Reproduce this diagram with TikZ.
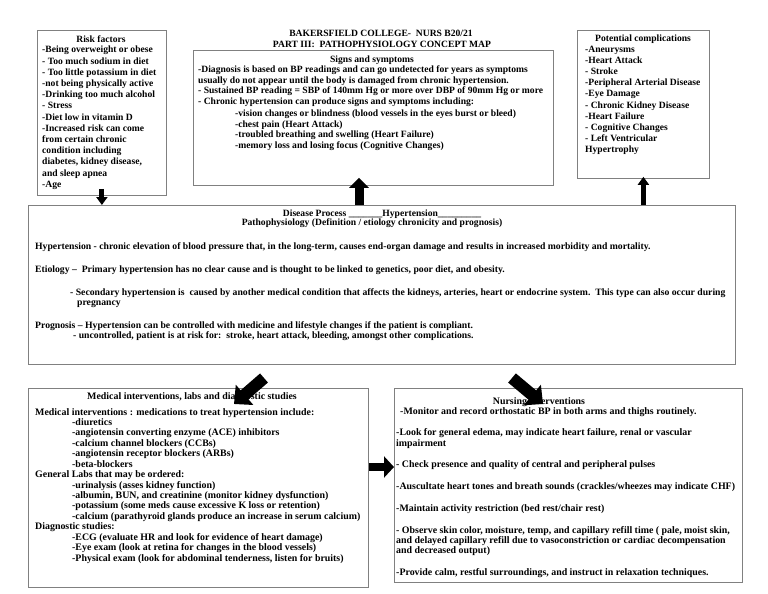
\documentclass[tikz,border=0pt]{standalone}
\usepackage{fontspec}
\setmainfont{Liberation Serif}
\usetikzlibrary{arrows.meta}
\newcommand{\fs}[2]{\fontsize{#1}{#2}\selectfont\bfseries}
\newcommand{\indl}{\hspace*{37pt}}
\tikzset{
  box/.style={draw=black!50, line width=0.8pt, inner sep=0pt, anchor=north west},
  hd/.style={font=\fs{9.6}{10.5}, inner sep=0pt},
  txt/.style={font=\fs{9.6}{10.5}, inner sep=0pt, anchor=north west, align=left},
  thinar/.style={line width=5pt, -{Triangle[length=8pt, width=11pt]}},
  midar/.style={line width=8pt, -{Triangle[length=10pt, width=21pt]}},
  fatar/.style={line width=12pt, -{Triangle[length=14pt, width=26pt]}}
}
\begin{document}
\begin{tikzpicture}[x=1pt, y=-1pt]
\useasboundingbox[fill=white] (0,0) rectangle (768,594);

\node[box, minimum width=129pt, minimum height=165pt] (risk) at (37,30) {};
\node[box, minimum width=360pt, minimum height=135pt] (signs) at (193,50) {};
\node[box, minimum width=132pt, minimum height=148pt] (comp) at (577,30) {};
\node[box, minimum width=707pt, minimum height=159pt] (dis) at (28,205) {};
\node[box, minimum width=340pt, minimum height=199pt] (med) at (28,388) {};
\node[box, minimum width=348pt, minimum height=194pt] (nur) at (394,388) {};

\node[hd] (title1) at (381,33) {BAKERSFIELD COLLEGE-\ \ NURS B20/21};
\node[hd] (title2) at (382,44) {PART III:\ \ PATHOPHYSIOLOGY CONCEPT MAP};

\node[hd] (riskhd) at (101,39) {Risk factors};
\node[txt, font=\fs{9.6}{11.2}] (risktxt) at (42,46) {-Being overweight or obese\\
- Too much sodium in diet\\
- Too little potassium in diet\\
-not being physically active\\
-Drinking too much alcohol\\
- Stress\\
-Diet low in vitamin D\\
-Increased risk can come\\
from certain chronic\\
condition including\\
diabetes, kidney disease,\\
and sleep apnea\\
-Age};

\node[hd] (signhd) at (372,60) {Signs and symptoms};
\node[txt] (signtxt) at (198,66) {-Diagnosis is based on BP readings and can go undetected for years as symptoms\\
usually do not appear until the body is damaged from chronic hypertension.\\
- Sustained BP reading = SBP of 140mm Hg or more over DBP of 90mm Hg or more\\
- Chronic hypertension can produce signs and symptoms including:\\[2pt]
\indl-vision changes or blindness (blood vessels in the eyes burst or bleed)\\
\indl-chest pain (Heart Attack)\\
\indl-troubled breathing and swelling (Heart Failure)\\
\indl-memory loss and losing focus (Cognitive Changes)};

\node[hd] (comphd) at (643,39) {Potential complications};
\node[txt, font=\fs{9.6}{11.1}] (comptxt) at (585,46) {-Aneurysms\\
-Heart Attack\\
- Stroke\\
-Peripheral Arterial Disease\\
-Eye Damage\\
- Chronic Kidney Disease\\
-Heart Failure\\
- Cognitive Changes\\
- Left Ventricular\\
Hypertrophy};

\node[hd] (dishd1) at (382,214) {Disease Process \_\_\_\_\_\_\_Hypertension\_\_\_\_\_\_\_\_\_};
\node[hd] (dishd2) at (372,223) {Pathophysiology (Definition / etiology chronicity and prognosis)};
\node[txt, font=\fs{9.7}{10}] (distxt) at (35,242) {Hypertension - chronic elevation of blood pressure that, in the long-term, causes end-organ damage and results in increased morbidity and mortality.\\[13pt]
Etiology --\ \ Primary hypertension has no clear cause and is thought to be linked to genetics, poor diet, and obesity.\\[13pt]
\hspace*{35pt}- Secondary hypertension is\ \ caused by another medical condition that affects the kidneys, arteries, heart or endocrine system.\ \ This type can also occur during\\
\hspace*{42pt}pregnancy\\[13pt]
Prognosis -- Hypertension can be controlled with medicine and lifestyle changes if the patient is compliant.\\
\hspace*{38pt}- uncontrolled, patient is at risk for:\ \ stroke, heart attack, bleeding, amongst other complications.};

\node[hd, font=\fs{9.9}{10.5}] (medhd) at (192,397) {Medical interventions, labs and diagnostic studies};
\node[txt, font=\fs{9.9}{10.43}] (medtxt) at (35,408) {Medical interventions : medications to treat hypertension include:\\
\indl-diuretics\\
\indl-angiotensin converting enzyme (ACE) inhibitors\\
\indl-calcium channel blockers (CCBs)\\
\indl-angiotensin receptor blockers (ARBs)\\
\indl-beta-blockers\\
General Labs that may be ordered:\\
\indl-urinalysis (asses kidney function)\\
\indl-albumin, BUN, and creatinine (monitor kidney dysfunction)\\
\indl-potassium (some meds cause excessive K loss or retention)\\
\indl-calcium (parathyroid glands produce an increase in serum calcium)\\
Diagnostic studies:\\
\indl-ECG (evaluate HR and look for evidence of heart damage)\\
\indl-Eye exam (look at retina for changes in the blood vessels)\\
\indl-Physical exam (look for abdominal tenderness, listen for bruits)};

\node[hd, font=\fs{9.9}{10.5}] (nurhd) at (539,402) {Nursing interventions};
\node[txt, font=\fs{9.9}{10.3}] (nurtxt) at (396,407) {\hspace*{4pt}-Monitor and record orthostatic BP in both arms and thighs routinely.\\[11.5pt]
-Look for general edema, may indicate heart failure, renal or vascular\\
impairment\\[11.5pt]
- Check presence and quality of central and peripheral pulses\\[11.5pt]
-Auscultate heart tones and breath sounds (crackles/wheezes may indicate CHF)\\[11.5pt]
-Maintain activity restriction (bed rest/chair rest)\\[11.5pt]
- Observe skin color, moisture, temp, and capillary refill time ( pale, moist skin,\\
and delayed capillary refill due to vasoconstriction or cardiac decompensation\\
and decreased output)\\[11.5pt]
-Provide calm, restful surroundings, and instruct in relaxation techniques.};

\coordinate (sgx) at (359,0);
\coordinate (hy) at (0,467);
\coordinate (a1s) at (264,378);
\coordinate (a1e) at (234,404);
\coordinate (a2s) at (512,378);
\coordinate (a2e) at (543,404);

\draw[thinar] ([yshift=7pt]risk.south) -- (risk.south |- dis.north);
\draw[thinar, line width=9pt, -{Triangle[length=10pt, width=19pt]}, shorten >=-8pt] (dis.north -| sgx) -- (signs.south -| sgx);
\draw[thinar, shorten >=-2pt] (dis.north -| comp.south) -- (comp.south);
\draw[fatar] (a1s) -- (a1e);
\draw[fatar] (a2s) -- (a2e);
\draw[midar] (med.east |- hy) -- (nur.west |- hy);
\end{tikzpicture}
\end{document}
